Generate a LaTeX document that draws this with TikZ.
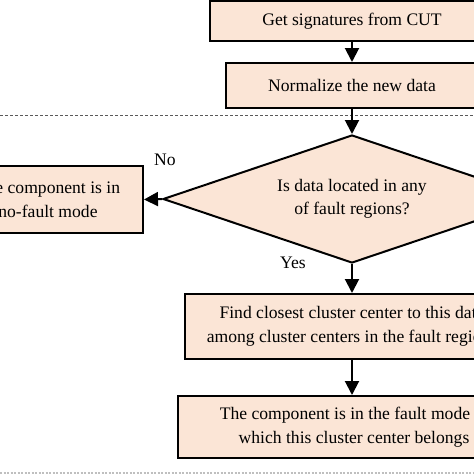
\documentclass[tikz,border=0pt]{standalone}
\usepackage{fontspec}
\setmainfont{Liberation Serif}
\usetikzlibrary{shapes.geometric,arrows.meta}
\definecolor{boxfill}{RGB}{251,229,214}
\begin{document}
\begin{tikzpicture}[x=1pt,y=-1pt,
  txt/.style={font=\fontsize{17.6}{23.5}\selectfont},
  box/.style={txt, draw=black, line width=2pt, fill=boxfill, inner sep=0pt, align=center},
  dec/.style={box, shape=diamond, aspect=2.95},
  lbl/.style={txt, inner sep=0pt},
  arr/.style={line width=2pt, -{Triangle[length=14pt,width=14pt]}}]
\useasboundingbox (0,0) rectangle (474,474);
\clip (0,0) rectangle (474,474);
\fill[white] (0,0) rectangle (474,474);
\draw[black!65, line width=1pt, dash pattern=on 3pt off 2pt] (0,115) -- (474,115);
\draw[black!25, line width=1.5pt, dash pattern=on 2pt off 1.5pt] (0,473) -- (474,473);
\node[box, minimum width=284pt, minimum height=40pt] (get) at (352,21) {Get signatures from CUT};
\node[box, minimum width=252pt, minimum height=45pt] (norm) at (352,85.5) {Normalize the new data};
\node[dec, minimum width=378pt, minimum height=128pt] (dec) at (352,199) {Is data located in any\\of fault regions?};
\node[box, minimum width=190pt, minimum height=67pt] (nof) at (48,199.5) {The component is in\\no-fault mode};
\node[box, minimum width=334pt, minimum height=65pt] (find) at (352,326.5) {Find closest cluster center to this data\\among cluster centers in the fault regions};
\node[box, minimum width=352pt, minimum height=62pt] (mode) at (354,427) {The component is in the fault mode to\\which this cluster center belongs};
\node[lbl] (no) at (165,160) {No};
\node[lbl] (yes) at (293,263) {Yes};
\draw[arr] (get) -- (norm);
\draw[arr] (norm) -- (dec);
\draw[arr] (dec.west) -- (nof.east);
\draw[arr] (dec) -- (find);
\draw[arr] (find) -- (mode.north -| find.south);
\end{tikzpicture}
\end{document}
